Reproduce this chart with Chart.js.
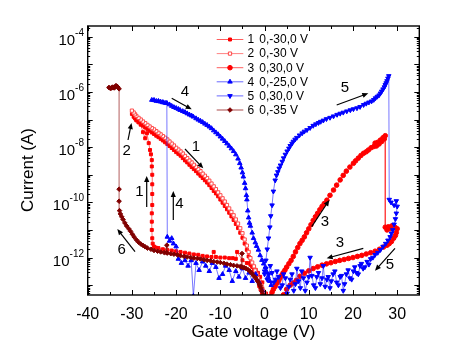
<!DOCTYPE html>
<html>
<head>
<meta charset="utf-8">
<script src="https://cdn.jsdelivr.net/npm/chart.js@4.4.0/dist/chart.umd.min.js"></script>
<style>
  html, body { margin: 0; padding: 0; background: #fff; }
  #wrap { width: 474px; height: 364px; }
</style>
</head>
<body>
<div id="wrap"><canvas id="chart" width="474" height="364"></canvas></div>
<script>
// 曲线 1: 0,-30,0 V（正扫低电流 -> 跳变 -> 回扫对角线）
const s1V = [0.3, -0.5, -1.0, -1.5, -2.0, -2.5, -3.2, -4.0, -5.0, -6.2, -6.5, -7.2, -8.0, -9.0, -10.0, -11.0, -11.5, -12.0, -13.0, -14.0,
  -15.0, -16.0, -17.0, -18.0, -19.0, -20.0, -21.0, -22.0, -23.0, -24.0, -24.6, -25.0, -25.3, -25.4,
  -25.5, -25.5, -25.5, -25.4, -25.4, -25.4, -25.4, -25.5, -25.5, -25.7, -25.9, -26.2, -26.6, -27.0, -27.5, -28.0, -28.5, -29.0, -29.5, -30.0,
  -29.6, -29.3, -29.0, -28.5, -28.0, -27.5, -27.0, -26.5, -26.0, -25.5, -25.0, -24.5, -24.0, -23.5, -23.0, -22.5, -22.0, -21.5, -21.0,
  -20.5, -20.0, -19.5, -19.0, -18.5, -18.0, -17.5, -17.0, -16.5, -16.0, -15.5, -15.0, -14.5, -14.0, -13.5, -13.0, -12.5, -12.0,
  -11.5, -11.0, -10.5, -10.0, -9.5, -9.0, -8.5, -8.0, -7.5, -7.0, -6.5, -6.0, -5.5, -5.0, -4.5, -4.0, -3.6, -3.2, -2.8, -2.4,
  -2.0, -1.7, -1.2, -0.9, -0.6, 0.0];
const s1I = [5.0e-14, 1.26e-13, 2.0e-13, 2.8e-13, 3.6e-13, 4.5e-13, 5.5e-13, 6.3e-13, 8.0e-13, 1.6e-12, 9.0e-13, 9.5e-13, 9.5e-13, 1.0e-12, 1.0e-12, 1.05e-12, 1.6e-12, 1.05e-12, 1.1e-12, 1.15e-12,
  1.26e-12, 1.3e-12, 1.4e-12, 1.5e-12, 1.6e-12, 1.7e-12, 1.8e-12, 1.9e-12, 2.0e-12, 2.2e-12, 2.3e-12, 2.5e-12, 3.2e-12, 5.0e-12,
  1.0e-11, 2.0e-11, 4.0e-11, 8.0e-11, 2.0e-10, 4.5e-10, 1.0e-9, 2.0e-9, 3.4e-9, 5.5e-9, 7.9e-9, 1.4e-8, 3.2e-8, 2.1e-8, 3.5e-8, 6.5e-8, 8.0e-8, 1.0e-7, 1.3e-7, 1.6e-7,
  1.26e-7, 1.1e-7, 9.3e-8, 8.0e-8, 6.9e-8, 6.0e-8, 5.1e-8, 4.5e-8, 3.9e-8, 3.4e-8, 3.0e-8, 2.6e-8, 2.3e-8, 2.0e-8, 1.74e-8, 1.5e-8, 1.3e-8, 1.1e-8, 9.3e-9,
  7.9e-9, 6.6e-9, 5.7e-9, 4.9e-9, 4.0e-9, 3.3e-9, 2.8e-9, 2.3e-9, 1.9e-9, 1.6e-9, 1.35e-9, 1.1e-9, 9.2e-10, 7.6e-10, 6.3e-10, 5.2e-10, 4.2e-10, 3.3e-10,
  2.6e-10, 2.1e-10, 1.65e-10, 1.26e-10, 9.7e-11, 7.4e-11, 5.6e-11, 4.2e-11, 3.1e-11, 2.3e-11, 1.65e-11, 1.17e-11, 7.9e-12, 5.2e-12, 3.2e-12, 1.9e-12, 1.1e-12, 6.6e-13, 4.6e-13, 3.3e-13,
  2.2e-13, 1.6e-13, 9.3e-14, 7.0e-14, 5.2e-14, 3.2e-14];

// 曲线 2: 0,-30 V（单向扫描）
const s2V = [0.0, -0.3, -0.6, -0.9, -1.2, -1.5, -1.8, -2.1, -2.4, -2.8, -3.2, -3.6, -4.0, -4.5, -5.0, -5.5, -6.0, -6.5, -7.0, -7.5,
  -8.0, -8.5, -9.0, -9.5, -10.0, -10.5, -11.0, -11.5, -12.0, -12.5, -13.0, -13.5, -14.0, -14.5, -15.0, -15.5, -16.0, -16.5, -17.0, -17.5,
  -18.0, -18.5, -19.0, -19.5, -20.0, -20.5, -21.0, -21.5, -22.0, -22.5, -23.0, -23.5, -24.0, -24.5, -25.0, -25.5, -26.0, -26.5,
  -27.0, -27.5, -28.0, -28.5, -29.0, -29.3, -29.6, -30.0];
const s2I = [4.8e-14, 6.0e-14, 7.6e-14, 1.0e-13, 1.35e-13, 1.8e-13, 2.5e-13, 3.4e-13, 4.8e-13, 6.6e-13, 9.5e-13, 1.6e-12, 2.7e-12, 4.5e-12, 7.6e-12, 1.15e-11, 1.7e-11, 2.4e-11, 3.4e-11, 4.5e-11,
  6.0e-11, 8.0e-11, 1.07e-10, 1.4e-10, 1.8e-10, 2.3e-10, 3.0e-10, 3.8e-10, 4.8e-10, 6.1e-10, 7.6e-10, 9.2e-10, 1.1e-9, 1.35e-9, 1.6e-9, 1.95e-9, 2.3e-9, 2.8e-9, 3.3e-9, 4.0e-9,
  4.8e-9, 5.9e-9, 7.0e-9, 8.2e-9, 9.5e-9, 1.15e-8, 1.35e-8, 1.6e-8, 1.9e-8, 2.2e-8, 2.5e-8, 2.9e-8, 3.3e-8, 3.8e-8, 4.4e-8, 4.9e-8, 5.6e-8, 6.4e-8,
  7.4e-8, 8.5e-8, 1.0e-7, 1.15e-7, 1.35e-7, 1.55e-7, 1.8e-7, 2.1e-7];

// 曲线 3: 0,30,0 V
const s3V = [1.3, 1.7, 2.0, 2.4, 2.8, 3.2, 3.5, 3.9, 4.2, 4.6, 5.0, 5.5, 6.0, 6.5, 7.0, 7.5, 8.0, 8.5, 9.0, 9.5, 10.0, 10.5, 11.0, 11.5,
  12.0, 12.5, 13.0, 13.5, 14.1, 14.8, 15.6, 16.3, 17.1, 17.8, 18.5, 19.3, 20.1, 20.6, 21.2, 21.8, 22.4, 23.0, 23.5, 24.1, 24.7,
  25.0, 25.3, 25.6, 25.9, 26.2, 26.5, 26.8, 27.1, 27.3,
  27.3, 27.7, 28.0, 28.4, 28.8, 29.2, 29.5, 30.0,
  29.8, 29.6, 29.2, 28.7, 28.2, 27.7, 26.9, 26.0, 25.0, 24.0, 23.0, 22.0, 21.0, 20.0, 19.0, 18.0, 17.0, 16.0, 15.0, 14.0, 13.0,
  12.0, 11.0, 10.0, 9.0, 8.0, 7.2, 6.5, 5.8, 5.0, 4.3];
const s3I = [4.0e-14, 5.5e-14, 7.1e-14, 9.0e-14, 1.17e-13, 1.45e-13, 1.8e-13, 2.3e-13, 2.8e-13, 3.5e-13, 4.5e-13, 6.0e-13, 7.9e-13, 1.1e-12, 1.6e-12, 2.3e-12, 3.2e-12, 4.2e-12, 5.6e-12, 7.9e-12, 1.1e-11, 1.55e-11, 2.2e-11, 3.0e-11,
  4.0e-11, 5.4e-11, 7.1e-11, 9.0e-11, 1.2e-10, 1.8e-10, 2.8e-10, 4.2e-10, 6.5e-10, 9.5e-10, 1.35e-9, 1.9e-9, 2.6e-9, 3.2e-9, 4.0e-9, 5.0e-9, 6.0e-9, 6.8e-9, 7.9e-9, 9.5e-9, 1.05e-8,
  1.4e-8, 1.1e-8, 1.5e-8, 1.3e-8, 1.8e-8, 1.6e-8, 2.2e-8, 2.0e-8, 2.6e-8,
  1.26e-11, 1.0e-11, 1.3e-11, 1.1e-11, 1.4e-11, 1.2e-11, 1.26e-11, 1.1e-11,
  8.0e-12, 6.3e-12, 5.0e-12, 3.8e-12, 3.2e-12, 2.8e-12, 2.4e-12, 2.0e-12, 1.7e-12, 1.5e-12, 1.35e-12, 1.2e-12, 1.1e-12, 1.0e-12, 9.3e-13, 8.5e-13, 7.9e-13, 7.2e-13, 6.5e-13, 5.9e-13, 5.3e-13,
  4.6e-13, 4.0e-13, 3.3e-13, 2.7e-13, 2.1e-13, 1.5e-13, 1.2e-13, 1.0e-13, 7.1e-14, 4.5e-14];

// 曲线 4: 0,-25,0 V
const s4V = [-0.5, -1.2, -2.0, -2.8, -3.5, -4.3, -5.0, -5.8, -6.5, -7.3, -8.0, -8.8, -9.5, -10.3, -11.0, -11.8, -12.5, -13.3, -14.0, -14.8,
  -15.5, -16.1, -16.6, -17.3, -18.0, -18.8, -19.5, -20.0, -20.6, -21.0, -21.5, -22.0,
  -22.1, -23.0, -24.0, -25.0, -25.5,
  -25.0, -24.5, -24.0, -23.5, -23.0, -22.5, -22.1, -21.5, -21.0, -20.5, -20.0, -19.5, -19.1, -18.5, -18.0, -17.5, -17.0, -16.5, -16.1,
  -15.5, -15.0, -14.5, -14.0, -13.5, -13.0, -12.5, -12.0, -11.5, -11.0, -10.5, -10.0, -9.5, -9.0, -8.5, -8.0, -7.5, -7.0, -6.5, -6.0,
  -5.6, -5.3, -5.0, -4.8, -4.5, -4.3, -4.1, -4.0, -3.8, -3.6, -3.4, -3.2, -2.8, -2.5, -2.1, -1.8, -1.4, -1.0, -0.6, -0.2, 0.2, 0.5, 0.8, 1.2, 1.5];
const s4I = [6.3e-14, 1.26e-13, 2.5e-13, 1.4e-13, 2.8e-13, 1.8e-13, 4.0e-13, 2.0e-13, 3.2e-13, 1.4e-13, 3.5e-13, 5.0e-13, 2.5e-13, 1.8e-13, 4.5e-13, 6.3e-13, 3.2e-13, 5.0e-13, 7.1e-13, 3.5e-13,
  6.3e-13, 4.0e-14, 7.9e-13, 5.0e-13, 7.9e-13, 6.3e-13, 8.9e-13, 2.5e-12, 3.2e-12, 5.0e-12, 4.0e-12, 5.6e-12,
  3.9e-7, 4.2e-7, 4.6e-7, 5.0e-7, 5.1e-7,
  5.0e-7, 4.7e-7, 4.6e-7, 4.4e-7, 4.2e-7, 4.0e-7, 3.9e-7, 3.5e-7, 3.1e-7, 2.8e-7, 2.6e-7, 2.4e-7, 2.2e-7, 2.0e-7, 1.85e-7, 1.66e-7, 1.5e-7, 1.38e-7, 1.26e-7,
  1.1e-7, 9.8e-8, 8.9e-8, 8.0e-8, 7.0e-8, 6.3e-8, 5.5e-8, 4.8e-8, 4.0e-8, 3.4e-8, 2.9e-8, 2.4e-8, 2.0e-8, 1.65e-8, 1.35e-8, 1.1e-8, 8.9e-9, 7.1e-9, 5.4e-9, 3.8e-9,
  2.6e-9, 1.8e-9, 1.2e-9, 8.5e-10, 5.0e-10, 3.2e-10, 1.8e-10, 1.26e-10, 5.0e-11, 2.8e-11, 1.8e-11, 1.4e-11, 7.9e-12, 5.0e-12, 3.5e-12, 2.6e-12, 1.9e-12, 1.2e-12, 8.1e-13, 6.0e-13, 4.5e-13, 3.0e-13, 2.0e-13, 1.4e-13, 1.0e-13];

// 曲线 5: 0,30,0 V
const s5V = [0.0, 0.3, 0.6, 0.9, 1.2, 1.4, 1.7, 2.0, 2.4, 2.7, 3.0, 3.3, 3.6, 4.0, 4.3, 4.7, 5.1, 5.5, 5.8, 6.2, 6.5, 6.9, 7.3, 7.9,
  8.5, 9.0, 9.6, 10.3, 11.0, 11.6, 12.2, 12.7, 13.3, 14.0, 14.8, 15.6, 16.4, 17.1, 17.8, 18.6, 19.4, 20.1, 20.9, 21.6, 22.4, 23.0,
  23.6, 24.2, 24.7, 25.1, 25.5, 25.9, 26.2, 26.5, 26.8, 27.1, 27.3, 27.5, 27.7, 27.9, 28.1,
  28.2, 28.6, 29.3, 29.8, 30.0,
  29.8, 29.6, 29.3, 29.0, 28.7, 28.4, 27.9, 27.4, 26.8, 26.2, 25.6, 25.0, 24.5, 24.0, 23.6, 23.2, 22.7, 22.3, 21.9, 21.6, 21.2,
  20.8, 20.4, 20.1, 19.7, 19.3, 18.9, 18.5, 18.1, 17.8, 17.4, 17.1, 16.7, 16.3, 15.9, 15.5, 15.1, 14.8, 14.4, 14.1, 13.7, 13.3,
  13.0, 12.6, 12.2, 11.8, 11.5, 11.1, 10.7, 10.3, 10.0, 9.6, 9.2, 8.8, 8.4, 8.1, 7.7, 7.3, 7.0, 6.6, 6.2, 5.8, 5.5, 5.1, 4.7,
  4.3, 4.0, 3.6, 3.2, 2.8, 2.5, 2.1, 1.7, 1.3, 1.0, 0.6, 0.3, 0.0];
const s5I = [2.5e-13, 7.9e-13, 2.0e-12, 5.0e-12, 1.26e-11, 3.2e-11, 7.9e-11, 2.5e-10, 6.3e-10, 9.5e-10, 1.26e-9, 1.7e-9, 2.2e-9, 3.0e-9, 4.0e-9, 5.4e-9, 7.1e-9, 9.0e-9, 1.12e-8, 1.35e-8, 1.6e-8, 1.9e-8, 2.2e-8, 2.7e-8,
  3.2e-8, 3.7e-8, 4.2e-8, 5.0e-8, 6.0e-8, 6.8e-8, 7.6e-8, 8.4e-8, 9.3e-8, 1.05e-7, 1.17e-7, 1.32e-7, 1.5e-7, 1.65e-7, 1.8e-7, 2.0e-7, 2.2e-7, 2.4e-7, 2.6e-7, 2.9e-7, 3.4e-7, 3.8e-7,
  4.2e-7, 4.6e-7, 5.2e-7, 6.0e-7, 6.8e-7, 7.6e-7, 8.9e-7, 1.05e-6, 1.26e-6, 1.5e-6, 1.8e-6, 2.1e-6, 2.5e-6, 3.1e-6, 3.8e-6,
  1.26e-10, 1.0e-10, 7.9e-11, 1.12e-10, 7.1e-11,
  4.0e-11, 2.5e-11, 1.6e-11, 1.0e-11, 7.5e-12, 5.6e-12, 4.2e-12, 3.2e-12, 2.5e-12, 1.9e-12, 1.5e-12, 1.26e-12, 1.0e-12, 8.9e-13, 5.6e-13, 7.1e-13, 4.5e-13, 4.0e-13, 6.0e-13, 5.0e-13, 2.5e-13,
  2.8e-13, 4.5e-13, 3.2e-13, 1.6e-13, 1.8e-13, 3.5e-13, 2.5e-13, 1.1e-13, 6.3e-14, 2.2e-13, 2.0e-13, 1.0e-13, 1.26e-13, 3.2e-13, 2.5e-13, 1.4e-13, 7.9e-14, 2.0e-13, 1.6e-13, 8.9e-14, 5.0e-13,
  1.8e-13, 1.1e-13, 2.8e-13, 2.0e-13, 7.9e-14, 1.0e-13, 2.2e-13, 1.0e-12, 2.0e-13, 1.26e-13, 6.3e-14, 1.8e-13, 3.2e-13, 7.9e-14, 1.4e-13, 4.0e-13, 1.1e-13, 6.3e-14, 2.5e-13, 1.6e-13, 8.9e-14, 5.0e-14, 1.8e-13,
  2.5e-13, 1.0e-13, 7.9e-14, 2.0e-13, 3.2e-13, 1.6e-13, 1.26e-13, 2.8e-13, 5.0e-13, 2.5e-13, 1.6e-13, 4.0e-13, 3.2e-13];

// 曲线 6: 0,-35 V
const s6V = [-0.3, -0.6, -0.8, -1.0, -1.2, -1.5, -1.8, -2.1, -2.5, -2.9, -3.3, -3.7, -4.2, -4.6, -5.0, -5.1, -5.2, -5.5, -6.2, -7.0,
  -7.7, -8.5, -9.2, -10.0, -10.7, -11.5, -12.2, -13.0, -13.7, -14.5, -15.2, -16.0, -16.7, -17.5, -18.2, -19.0, -19.7, -20.5, -21.2, -22.0,
  -22.1, -22.2, -22.7, -23.5, -24.2, -25.0, -25.7, -26.5, -27.0, -27.5, -28.0, -28.5, -29.0, -29.5, -29.9, -30.3, -30.7, -31.2, -31.6, -32.0,
  -32.3, -32.6, -32.8, -32.9, -32.9,
  -32.9, -33.2, -33.4, -33.6, -33.8, -34.0, -34.2, -34.4, -34.6, -34.8, -35.0, -35.2];
const s6I = [4.5e-14, 6.0e-14, 7.9e-14, 9.5e-14, 1.1e-13, 1.35e-13, 1.6e-13, 1.9e-13, 2.2e-13, 2.7e-13, 3.2e-13, 3.6e-13, 4.0e-13, 4.3e-13, 4.5e-13, 1.4e-12, 4.6e-13, 4.7e-13, 5.0e-13, 5.2e-13,
  5.5e-13, 5.8e-13, 6.2e-13, 6.6e-13, 6.9e-13, 7.2e-13, 7.6e-13, 7.9e-13, 8.4e-13, 8.9e-13, 9.2e-13, 9.5e-13, 1.0e-12, 1.05e-12, 1.1e-12, 1.17e-12, 1.25e-12, 1.32e-12, 1.38e-12, 1.45e-12,
  2.8e-12, 1.5e-12, 1.52e-12, 1.6e-12, 1.7e-12, 1.8e-12, 2.0e-12, 2.2e-12, 2.45e-12, 2.75e-12, 3.1e-12, 3.6e-12, 4.4e-12, 5.6e-12, 7.0e-12, 8.9e-12, 1.1e-11, 1.4e-11, 1.8e-11, 2.4e-11,
  3.0e-11, 3.8e-11, 5.0e-11, 1.1e-10, 3.0e-10,
  1.3e-6, 1.5e-6, 1.6e-6, 1.7e-6, 1.5e-6, 1.4e-6, 1.45e-6, 1.5e-6, 1.4e-6, 1.35e-6, 1.4e-6, 1.45e-6];

// 图例与坐标轴
const legendNums = ['1', '2', '3', '4', '5', '6'];
const legendTexts = ['0,-30,0 V', '0,-30 V', '0,30,0 V', '0,-25,0 V', '0,30,0 V', '0,-35 V'];
const yLabelPowers = [-4, -6, -8, -10, -12];
const xTickStep = 10;
const xMin = -40, xMax = 35;
const yMin = 4.4e-14, yMax = 2.45e-4;

const FONT = '"Liberation Sans", Arial, Helvetica, sans-serif';

// 系列样式
const seriesStyles = [
  { line: 'rgba(255,40,40,0.75)', fill: '#ff0000', stroke: '#ff0000', style: 'rect', rot: 0, r: 2.1, order: 6 },
  { line: 'rgba(255,90,90,0.75)', fill: '#ffffff', stroke: '#ff4a4a', style: 'rect', rot: 0, r: 2.3, order: 5 },
  { line: 'rgba(255,40,40,0.75)', fill: '#ff0000', stroke: '#ff0000', style: 'circle', rot: 0, r: 2.3, order: 4 },
  { line: 'rgba(40,40,255,0.7)', fill: '#0000ff', stroke: '#0000ff', style: 'triangle', rot: 0, r: 2.6, order: 3 },
  { line: 'rgba(40,40,255,0.7)', fill: '#0000ff', stroke: '#0000ff', style: 'triangle', rot: 180, r: 2.6, order: 2 },
  { line: 'rgba(150,30,30,0.8)', fill: '#800000', stroke: '#800000', style: 'rectRot', rot: 0, r: 2.3, order: 1 }
];

function toPoints(vs, is) {
  return vs.map((v, i) => ({ x: v, y: is[i] }));
}

const seriesData = [
  toPoints(s1V, s1I), toPoints(s2V, s2I), toPoints(s3V, s3I),
  toPoints(s4V, s4I), toPoints(s5V, s5I), toPoints(s6V, s6I)
];

// 箭头与编号标注
const notes = [
  { t: '4', x: 185, y: 92, a: [171.7, 98.3, 191.7, 109.3] },
  { t: '1', x: 196, y: 147, a: [185, 149, 203.3, 168.3] },
  { t: '2', x: 126.7, y: 151, a: [128, 140, 131.5, 123] },
  { t: '1', x: 139.5, y: 192, a: [146.7, 207, 146.7, 176] },
  { t: '4', x: 179.5, y: 204, a: [173.3, 220, 173.3, 191] },
  { t: '6', x: 121.7, y: 250, a: [135, 251.7, 117.3, 229] },
  { t: '5', x: 345, y: 88, a: [336.7, 105, 368.3, 93.3] },
  { t: '3', x: 325, y: 222, a: [311.7, 226.7, 329.3, 200] },
  { t: '3', x: 340, y: 243, a: [363.3, 248.3, 326.7, 258.3] },
  { t: '5', x: 390, y: 265, a: [395, 248.3, 375, 270.7] }
];

function drawArrow(ctx, x1, y1, x2, y2) {
  const ang = Math.atan2(y2 - y1, x2 - x1);
  const hl = 6, hw = 2.6;
  ctx.beginPath();
  ctx.moveTo(x1, y1);
  ctx.lineTo(x2 - Math.cos(ang) * hl * 0.8, y2 - Math.sin(ang) * hl * 0.8);
  ctx.stroke();
  ctx.beginPath();
  ctx.moveTo(x2, y2);
  ctx.lineTo(x2 - Math.cos(ang) * hl - Math.sin(ang) * hw, y2 - Math.sin(ang) * hl + Math.cos(ang) * hw);
  ctx.lineTo(x2 - Math.cos(ang) * hl + Math.sin(ang) * hw, y2 - Math.sin(ang) * hl - Math.cos(ang) * hw);
  ctx.closePath();
  ctx.fill();
}

// 边框、刻度、标签、图例、标注
const decorPlugin = {
  id: 'decor',
  afterDraw(chart) {
    const ctx = chart.ctx;
    const a = chart.chartArea;
    const xs = chart.scales.x, ys = chart.scales.y;
    ctx.save();
    ctx.strokeStyle = '#000';
    ctx.fillStyle = '#000';

    // 刻度（朝内）
    ctx.lineWidth = 1;
    ctx.beginPath();
    for (let v = xMin; v <= xMax; v += 5) {
      const px = Math.round(xs.getPixelForValue(v)) + 0.5;
      const len = v % 10 === 0 ? 5 : 3;
      ctx.moveTo(px, a.bottom); ctx.lineTo(px, a.bottom - len);
      ctx.moveTo(px, a.top); ctx.lineTo(px, a.top + len);
    }
    for (let e = -14; e <= -3; e++) {
      for (let m = 1; m <= 9; m++) {
        const val = m * Math.pow(10, e);
        if (val < yMin || val > yMax) continue;
        const py = Math.round(ys.getPixelForValue(val)) + 0.5;
        const len = m === 1 ? 5 : 2.5;
        ctx.moveTo(a.left, py); ctx.lineTo(a.left + len, py);
        ctx.moveTo(a.right, py); ctx.lineTo(a.right - len, py);
      }
    }
    ctx.stroke();

    // 边框
    ctx.lineWidth = 1.4;
    ctx.strokeRect(a.left, a.top, a.right - a.left, a.bottom - a.top);

    // Y 轴标签 10^n
    yLabelPowers.forEach(p => {
      const py = ys.getPixelForValue(Math.pow(10, p));
      const exp = String(p);
      ctx.font = '10px ' + FONT;
      const ew = ctx.measureText(exp).width;
      ctx.textAlign = 'left';
      ctx.textBaseline = 'alphabetic';
      ctx.fillText(exp, 84 - ew, py - 1);
      ctx.font = '15px ' + FONT;
      ctx.textAlign = 'right';
      ctx.fillText('10', 84 - ew, py + 8);
    });

    // 轴标题
    ctx.font = '17px ' + FONT;
    ctx.textAlign = 'center';
    ctx.textBaseline = 'middle';
    ctx.fillText('Gate voltage (V)', (a.left + a.right) / 2, 332);
    ctx.save();
    ctx.translate(28.5, 170);
    ctx.rotate(-Math.PI / 2);
    ctx.fillText('Current (A)', 0, 0);
    ctx.restore();

    // 图例
    legendNums.forEach((n, i) => {
      const st = seriesStyles[i];
      const y = 39.5 + 14.1 * i;
      ctx.strokeStyle = st.line;
      ctx.lineWidth = 1;
      ctx.beginPath();
      ctx.moveTo(216.7, y); ctx.lineTo(243.3, y);
      ctx.stroke();
      ctx.fillStyle = st.fill;
      ctx.strokeStyle = st.stroke;
      Chart.helpers.drawPoint(ctx, { pointStyle: st.style, rotation: st.rot, radius: st.r, borderWidth: 1 }, 230, y);
      ctx.fillStyle = '#000';
      ctx.font = '12px ' + FONT;
      ctx.textAlign = 'left';
      ctx.textBaseline = 'middle';
      ctx.fillText(n, 247.5, y + 0.5);
      ctx.fillText(legendTexts[i], 259.3, y + 0.5);
    });

    // 箭头标注
    ctx.strokeStyle = '#000';
    ctx.fillStyle = '#000';
    ctx.lineWidth = 1.2;
    ctx.font = '15px ' + FONT;
    ctx.textAlign = 'center';
    ctx.textBaseline = 'middle';
    notes.forEach(nt => {
      ctx.fillText(nt.t, nt.x, nt.y);
      drawArrow(ctx, nt.a[0], nt.a[1], nt.a[2], nt.a[3]);
    });
    ctx.restore();
  }
};

function initChart() {
  const ctx = document.getElementById('chart').getContext('2d');
  const datasets = seriesData.map((pts, i) => {
    const st = seriesStyles[i];
    return {
      label: legendNums[i],
      data: pts,
      showLine: true,
      borderColor: st.line,
      borderWidth: 0.9,
      pointStyle: st.style,
      pointRotation: st.rot,
      pointRadius: st.r,
      pointBackgroundColor: st.fill,
      pointBorderColor: st.stroke,
      pointBorderWidth: 1,
      tension: 0,
      fill: false,
      clip: 0,
      order: st.order
    };
  });

  new Chart(ctx, {
    type: 'scatter',
    data: { datasets },
    options: {
      responsive: false,
      animation: false,
      devicePixelRatio: 1,
      layout: { padding: { top: 26, right: 54.7, bottom: 0, left: 0 } },
      plugins: { legend: { display: false }, tooltip: { enabled: false } },
      scales: {
        x: {
          type: 'linear',
          min: xMin,
          max: xMax,
          grid: { display: false },
          border: { display: false },
          ticks: {
            stepSize: xTickStep,
            includeBounds: false,
            autoSkip: false,
            maxRotation: 0,
            padding: 2,
            color: '#000',
            font: { family: FONT, size: 16 }
          },
          afterFit(scale) { scale.height = 69; }
        },
        y: {
          type: 'logarithmic',
          min: yMin,
          max: yMax,
          grid: { display: false },
          border: { display: false },
          ticks: { display: false },
          afterFit(scale) { scale.width = 87.7; }
        }
      }
    },
    plugins: [decorPlugin]
  });
}

document.addEventListener('DOMContentLoaded', initChart);
</script>
</body>
</html>
